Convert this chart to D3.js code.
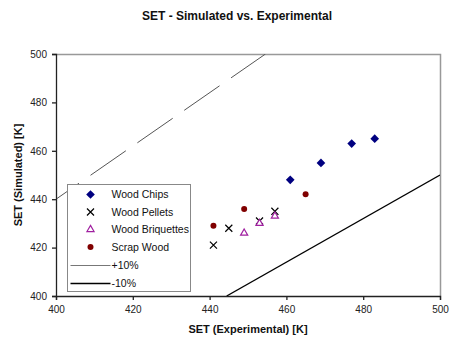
<!DOCTYPE html>
<html>
<head>
<meta charset="utf-8">
<script src="https://cdn.jsdelivr.net/npm/d3@7"></script>
<style>
  body { margin: 0; background: #fff; }
  svg text { font-family: Arial, "Liberation Sans", sans-serif; fill: #111; }
  .title { font-size: 12px; font-weight: bold; }
  .axis_title { font-size: 11px; font-weight: bold; }
  .axis text { font-size: 10px; fill: #222; }
  .legend text { font-size: 10.5px; }
</style>
</head>
<body>
<div class="main_content"></div>
<script>
// Data
const chipsX = [461, 469, 477, 483];
const chipsY = [448, 455, 463, 465];
const pelletsX = [441, 445, 453, 457];
const pelletsY = [421, 428, 431, 435];
const briqX = [449, 453, 457];
const briqY = [426, 430, 433];
const scrapX = [441, 449, 465];
const scrapY = [429, 436, 442];
const xTicks = [400, 420, 440, 460, 480, 500];
const yTicks = [400, 420, 440, 460, 480, 500];
const plusFactor = 1.1;
const minusFactor = 0.9;

class ScatterChart {
    constructor() {
        this.margin = {top: 54, right: 34, bottom: 55, left: 56};
        this.width = 474;
        this.height = 351;
    }

    render() {
        let w = this.width - this.margin.left - this.margin.right;
        let h = this.height - this.margin.top - this.margin.bottom;

        this.svg = d3.select('.main_content').append('svg')
            .attr('width', this.width)
            .attr('height', this.height);

        let xScale = d3.scaleLinear().domain([400, 500]).range([0, w]);
        let yScale = d3.scaleLinear().domain([400, 500]).range([h, 0]);

        let g = this.svg.append('g')
            .attr('transform', 'translate(' + this.margin.left + ',' + this.margin.top + ')');

        // clip so the reference lines stay inside the plot
        this.svg.append('clipPath').attr('id', 'plotClip')
            .append('rect').attr('width', w).attr('height', h);

        // Top and right frame (gray)
        g.append('path')
            .attr('d', 'M0,0.5H' + (w + 0.5) + 'V' + h)
            .attr('fill', 'none')
            .attr('stroke', '#999')
            .attr('stroke-width', 1.5);

        // +10% and -10% lines
        let lines = g.append('g').attr('clip-path', 'url(#plotClip)');
        lines.append('line')
            .attr('x1', xScale(400)).attr('y1', yScale(400 * plusFactor))
            .attr('x2', xScale(500 / plusFactor)).attr('y2', yScale(500))
            .attr('stroke', '#555')
            .attr('stroke-width', 1)
            .attr('stroke-dasharray', '43,14')
            .attr('stroke-dashoffset', 15);
        lines.append('line')
            .attr('x1', xScale(400 / minusFactor)).attr('y1', yScale(400))
            .attr('x2', xScale(500)).attr('y2', yScale(500 * minusFactor))
            .attr('stroke', '#000')
            .attr('stroke-width', 1.3);

        // Axes
        let xAxis = d3.axisBottom(xScale).tickValues(xTicks).tickSize(4).tickPadding(6);
        let yAxis = d3.axisLeft(yScale).tickValues(yTicks).tickSize(4).tickPadding(5);

        g.append('g')
            .attr('transform', 'translate(0,' + h + ')')
            .call(xAxis)
            .classed('axis', true);
        g.append('g')
            .call(yAxis)
            .classed('axis', true);
        g.selectAll('.axis path, .axis line').attr('stroke', '#222').attr('stroke-width', 1.3);

        // Points
        let diamond = d3.symbol().type(d3.symbolDiamond2).size(48);
        let triangle = d3.symbol().type(d3.symbolTriangle).size(22);
        let cross = d3.symbol().type(d3.symbolX).size(34);

        g.selectAll('.chip').data(chipsX.map((x, i) => [x, chipsY[i]]))
            .enter().append('path')
            .attr('transform', d => 'translate(' + xScale(d[0]) + ',' + yScale(d[1]) + ')')
            .attr('d', diamond)
            .style('fill', '#000080');

        g.selectAll('.pellet').data(pelletsX.map((x, i) => [x, pelletsY[i]]))
            .enter().append('path')
            .attr('transform', d => 'translate(' + xScale(d[0]) + ',' + yScale(d[1]) + ')')
            .attr('d', cross)
            .style('fill', 'none')
            .style('stroke', '#000')
            .style('stroke-width', 1.2);

        g.selectAll('.briq').data(briqX.map((x, i) => [x, briqY[i]]))
            .enter().append('path')
            .attr('transform', d => 'translate(' + xScale(d[0]) + ',' + yScale(d[1]) + ')')
            .attr('d', triangle)
            .style('fill', '#fff')
            .style('stroke', '#a020a0')
            .style('stroke-width', 1.2);

        g.selectAll('.scrap').data(scrapX.map((x, i) => [x, scrapY[i]]))
            .enter().append('circle')
            .attr('cx', d => xScale(d[0]))
            .attr('cy', d => yScale(d[1]))
            .attr('r', 3)
            .style('fill', '#800000');

        // Legend
        let legend = this.svg.append('g').classed('legend', true)
            .attr('transform', 'translate(67.5,184.5)');
        legend.append('rect')
            .attr('width', 123).attr('height', 107)
            .attr('fill', '#fff')
            .attr('stroke', '#888');

        let rows = [
            {label: 'Wood Chips', kind: 'chip'},
            {label: 'Wood Pellets', kind: 'pellet'},
            {label: 'Wood Briquettes', kind: 'briq'},
            {label: 'Scrap Wood', kind: 'scrap'},
            {label: '+10%', kind: 'plus'},
            {label: '-10%', kind: 'minus'}
        ];
        let rowY = [10, 27.5, 45, 62.5, 81, 99];
        rows.forEach((r, i) => {
            let y = rowY[i];
            let sx = 23;
            if (r.kind === 'chip') {
                legend.append('path').attr('transform', 'translate(' + sx + ',' + y + ')')
                    .attr('d', diamond).style('fill', '#000080');
            } else if (r.kind === 'pellet') {
                legend.append('path').attr('transform', 'translate(' + sx + ',' + y + ')')
                    .attr('d', cross).style('fill', 'none').style('stroke', '#000').style('stroke-width', 1.2);
            } else if (r.kind === 'briq') {
                legend.append('path').attr('transform', 'translate(' + sx + ',' + y + ')')
                    .attr('d', triangle).style('fill', '#fff').style('stroke', '#a020a0').style('stroke-width', 1.2);
            } else if (r.kind === 'scrap') {
                legend.append('circle').attr('cx', sx).attr('cy', y).attr('r', 3).style('fill', '#800000');
            } else {
                legend.append('line')
                    .attr('x1', 3).attr('x2', 43).attr('y1', y).attr('y2', y)
                    .attr('stroke', r.kind === 'plus' ? '#777' : '#000')
                    .attr('stroke-width', r.kind === 'plus' ? 1 : 1.3);
            }
            legend.append('text')
                .attr('x', 44)
                .attr('y', y)
                .attr('dy', '0.35em')
                .text(r.label);
        });

        // Titles
        this.svg.append('text')
            .attr('x', 237).attr('y', 20)
            .attr('text-anchor', 'middle')
            .classed('title', true)
            .text('SET - Simulated vs. Experimental');

        this.svg.append('text')
            .attr('x', this.margin.left + w / 2).attr('y', 333)
            .attr('text-anchor', 'middle')
            .classed('axis_title', true)
            .text('SET (Experimental) [K]');

        this.svg.append('text')
            .attr('transform', 'translate(22,' + (this.margin.top + h / 2) + ') rotate(-90)')
            .attr('text-anchor', 'middle')
            .classed('axis_title', true)
            .text('SET (Simulated) [K]');
    }
}

new ScatterChart().render();
</script>
</body>
</html>
